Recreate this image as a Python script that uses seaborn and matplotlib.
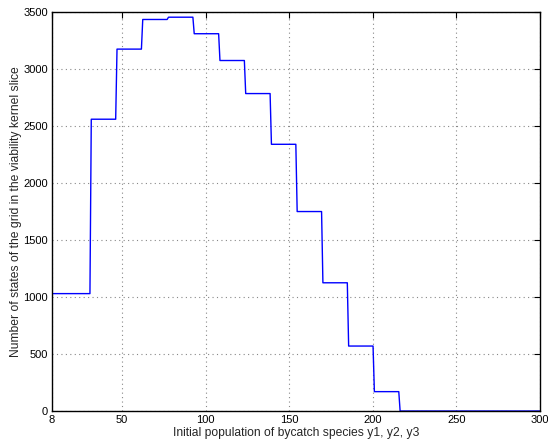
import numpy as np
import seaborn as sns
import matplotlib
matplotlib.use("Agg")
import matplotlib.pyplot as plt
import pandas as pd

# step edges (initial population) and the level held on each step
step_edges = [8, 30.7, 46.1, 61.5, 76.9, 92.3, 107.7, 123.1, 138.5, 153.9, 169.3, 184.7, 200.1, 215.5, 300]
step_levels = [1030, 2560, 3175, 3435, 3455, 3310, 3075, 2785, 2340, 1750, 1125, 570, 170, 0]
x_ticks = [8, 50, 100, 150, 200, 250, 300]
y_ticks = [0, 500, 1000, 1500, 2000, 2500, 3000, 3500]

# polyline through the steps, with a short ramp at each jump like the sampled original
xs, ys = [], []
for i, lev in enumerate(step_levels):
    x0 = step_edges[i] + (0.8 if i > 0 else 0)
    xs += [x0, step_edges[i + 1]]
    ys += [lev, lev]
df = pd.DataFrame({"x": xs, "y": ys})

sns.set_style("white")
plt.rcParams["font.family"] = ["Liberation Sans", "DejaVu Sans"]

fig = plt.figure(figsize=(5.48, 4.47), dpi=100)
ax = fig.add_axes([0.0949, 0.0805, 0.8905, 0.8925])
sns.lineplot(data=df, x="x", y="y", ax=ax, color="#0000ff", linewidth=1.0, sort=False, estimator=None)

ax.set_xlim(8, 300)
ax.set_ylim(0, 3500)
ax.set_xticks(x_ticks)
ax.set_yticks(y_ticks)
ax.grid(True, linestyle=(0, (1, 3)), color="#888888", linewidth=0.8)
for s in ax.spines.values():
    s.set_color("black")
    s.set_linewidth(1.0)
ax.tick_params(direction="in", top=True, right=True, length=4, width=0.8,
               labelsize=8, colors="black", pad=3)
ax.set_xlabel("Initial population of bycatch species y1, y2, y3", fontsize=8.7, labelpad=1)
ax.set_ylabel("Number of states of the grid in the viability kernel slice", fontsize=8.7, labelpad=1)

fig.savefig("out.png", dpi=100)
